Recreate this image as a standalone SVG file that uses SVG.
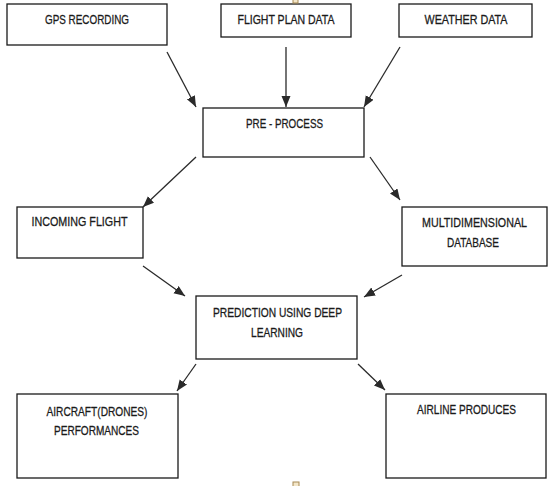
<svg xmlns="http://www.w3.org/2000/svg" width="553" height="486" viewBox="0 0 553 486">
  <style>
    .box { fill: #ffffff; stroke: #1a1a1a; stroke-width: 1.3; }
    .lbl { font-family: "Liberation Sans", Arial, sans-serif; font-size: 13.5px; fill: #1a1a1a; stroke: #1a1a1a; stroke-width: 0.3; text-anchor: middle; }
    .conn { stroke: #2a2a2a; stroke-width: 1.3; fill: none; marker-end: url(#arr); }
    .anchor { fill: #f3e6c8; stroke: #a88a55; stroke-width: 1; }
  </style>
  <defs>
    <marker id="arr" markerUnits="userSpaceOnUse" markerWidth="12" markerHeight="10" refX="11" refY="4.5" orient="auto">
      <path d="M0,0 L11,4.5 L0,9 z" fill="#2a2a2a"/>
    </marker>
  </defs>
  <rect width="553" height="486" fill="#ffffff"/>

  <g id="gps">
    <rect class="box" x="7" y="4" width="160" height="41"/>
    <text class="lbl" x="87" y="24" textLength="84" lengthAdjust="spacingAndGlyphs">GPS RECORDING</text>
  </g>
  <g id="flightplan">
    <rect class="box" x="221" y="4" width="130" height="33"/>
    <text class="lbl" x="286" y="24" textLength="97" lengthAdjust="spacingAndGlyphs">FLIGHT PLAN DATA</text>
  </g>
  <g id="weather">
    <rect class="box" x="399" y="4" width="133" height="33"/>
    <text class="lbl" x="466" y="24" textLength="83" lengthAdjust="spacingAndGlyphs">WEATHER DATA</text>
  </g>
  <g id="preprocess">
    <rect class="box" x="203" y="108" width="161" height="49"/>
    <text class="lbl" x="284.5" y="128" textLength="77" lengthAdjust="spacingAndGlyphs">PRE - PROCESS</text>
  </g>
  <g id="incoming">
    <rect class="box" x="17" y="207" width="126" height="51"/>
    <text class="lbl" x="79.5" y="226" textLength="96" lengthAdjust="spacingAndGlyphs">INCOMING FLIGHT</text>
  </g>
  <g id="multidim">
    <rect class="box" x="402" y="207" width="145" height="59"/>
    <text class="lbl" x="474.5" y="227" textLength="105" lengthAdjust="spacingAndGlyphs">MULTIDIMENSIONAL</text>
    <text class="lbl" x="473" y="247" textLength="52" lengthAdjust="spacingAndGlyphs">DATABASE</text>
  </g>
  <g id="prediction">
    <rect class="box" x="196" y="296" width="161" height="63"/>
    <text class="lbl" x="277.5" y="317" textLength="129" lengthAdjust="spacingAndGlyphs">PREDICTION USING DEEP</text>
    <text class="lbl" x="277" y="337" textLength="52" lengthAdjust="spacingAndGlyphs">LEARNING</text>
  </g>
  <g id="aircraft">
    <rect class="box" x="17" y="394" width="161" height="84"/>
    <text class="lbl" x="97" y="416" textLength="101" lengthAdjust="spacingAndGlyphs">AIRCRAFT(DRONES)</text>
    <text class="lbl" x="96.5" y="435" textLength="85" lengthAdjust="spacingAndGlyphs">PERFORMANCES</text>
  </g>
  <g id="airline">
    <rect class="box" x="386" y="394" width="160" height="84"/>
    <text class="lbl" x="466.5" y="414" textLength="99" lengthAdjust="spacingAndGlyphs">AIRLINE PRODUCES</text>
  </g>

  <g id="connectors">
    <line class="conn" x1="167" y1="52" x2="196" y2="107"/>
    <line class="conn" x1="286" y1="47" x2="286" y2="107"/>
    <line class="conn" x1="400" y1="47" x2="364" y2="107"/>
    <line class="conn" x1="196" y1="157" x2="143" y2="207"/>
    <line class="conn" x1="370" y1="157" x2="400" y2="200"/>
    <line class="conn" x1="143" y1="266" x2="185" y2="296"/>
    <line class="conn" x1="402" y1="275" x2="364" y2="297"/>
    <line class="conn" x1="196" y1="364" x2="177" y2="391"/>
    <line class="conn" x1="358" y1="364" x2="385" y2="390"/>
  </g>

  <rect class="anchor" x="293" y="-1" width="5" height="4"/>
  <rect class="anchor" x="293" y="482" width="6" height="5"/>
</svg>
